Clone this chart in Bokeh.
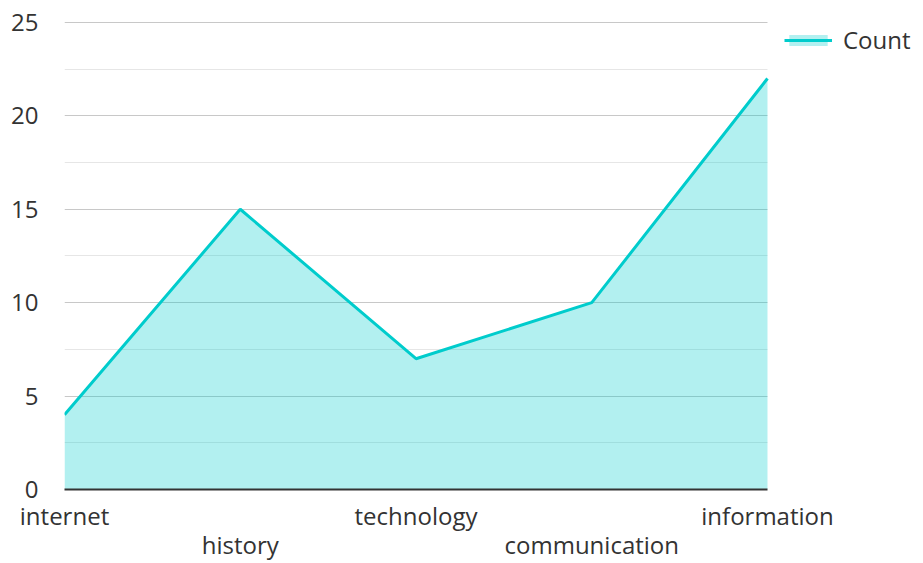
from bokeh.plotting import figure
from bokeh.models import (FixedTicker, Range1d, Legend, LegendItem, ColumnDataSource,
                          LinearAxis)
from bokeh.embed import file_html
from bokeh.resources import INLINE

categories = ["internet", "history", "technology", "communication", "information"]
counts = [4, 15, 7, 10, 22]
y_ticks = [0, 5, 10, 15, 20, 25]
y_minor_ticks = [2.5, 7.5, 12.5, 17.5, 22.5]

FONT = "Open Sans"
TEXT = "#333333"
LINE = "#00cccc"

W, H = 923, 563
LEFT, TOP, PLOT_W, BOTTOM = 64, 21, 703, 74

xs = list(range(len(categories)))
last = len(categories) - 1
src = ColumnDataSource(dict(x=xs, y=counts, base=[0] * len(xs)))

# the frame runs to the right edge (room for the legend); the data span ends at PLOT_W
x_end = last * (W - LEFT) / PLOT_W
# a hair of headroom so the top grid line (25) is drawn
y_end = y_ticks[-1] + 0.05

p = figure(width=W, height=H, output_backend="svg", toolbar_location=None,
           x_range=Range1d(0, x_end), y_range=Range1d(y_ticks[0], y_end),
           min_border_left=LEFT, min_border_right=0, min_border_top=TOP,
           min_border_bottom=BOTTOM)
p.outline_line_color = None
p.background_fill_color = "white"
p.border_fill_color = "white"

area = p.varea(x="x", y1="base", y2="y", source=src, fill_color="#00cccc", fill_alpha=0.3)
line = p.line(x="x", y="y", source=src, line_color=LINE, line_width=3)

p.xgrid.visible = False

# staggered category labels: two x axes (even / odd categories)
even = [i for i in xs if i % 2 == 0]
odd = [i for i in xs if i % 2 == 1]

ax1 = p.xaxis[0]
ax1.ticker = FixedTicker(ticks=even)
ax1.bounds = (0, last)
ax1.major_label_overrides = {i: categories[i] for i in even}
ax1.axis_line_color = "#333333"
ax1.axis_line_width = 2
ax1.major_tick_line_color = None
ax1.minor_tick_line_color = None
ax1.major_tick_out = 0
ax1.major_tick_in = 0
ax1.major_label_standoff = 9
ax1.major_label_text_font = FONT
ax1.major_label_text_font_size = "24px"
ax1.major_label_text_color = TEXT

ax2 = LinearAxis(ticker=FixedTicker(ticks=odd), bounds=(0, last),
                 major_label_overrides={i: categories[i] for i in odd},
                 axis_line_color=None, major_tick_line_color=None, minor_tick_line_color=None,
                 major_tick_out=0, major_tick_in=0, major_label_standoff=-7,
                 major_label_text_font=FONT, major_label_text_font_size="24px",
                 major_label_text_color=TEXT)
p.add_layout(ax2, "below")

p.yaxis.ticker = FixedTicker(ticks=y_ticks, minor_ticks=y_minor_ticks)
p.yaxis.axis_line_color = None
p.yaxis.major_tick_line_color = None
p.yaxis.minor_tick_line_color = None
p.yaxis.major_tick_out = 0
p.yaxis.major_tick_in = 0
p.yaxis.major_label_standoff = 22
p.yaxis.major_label_text_font = FONT
p.yaxis.major_label_text_font_size = "24px"
p.yaxis.major_label_text_color = TEXT

p.ygrid.grid_line_color = "#c8c8c8"
p.ygrid.grid_line_width = 1
p.ygrid.minor_grid_line_color = "#e6e6e6"
p.ygrid.minor_grid_line_width = 1
try:
    p.ygrid.cross_bounds = (0, last)
except AttributeError:
    pass

legend = Legend(items=[LegendItem(label="Count", renderers=[area, line])],
                location=(720, 433), glyph_width=48, glyph_height=14,
                label_standoff=11, padding=5, margin=0, spacing=0,
                border_line_color=None, background_fill_alpha=0,
                label_text_font=FONT, label_text_font_size="24px",
                label_text_color=TEXT)
p.add_layout(legend, "center")

open("out.html", "w").write(file_html(p, INLINE))
